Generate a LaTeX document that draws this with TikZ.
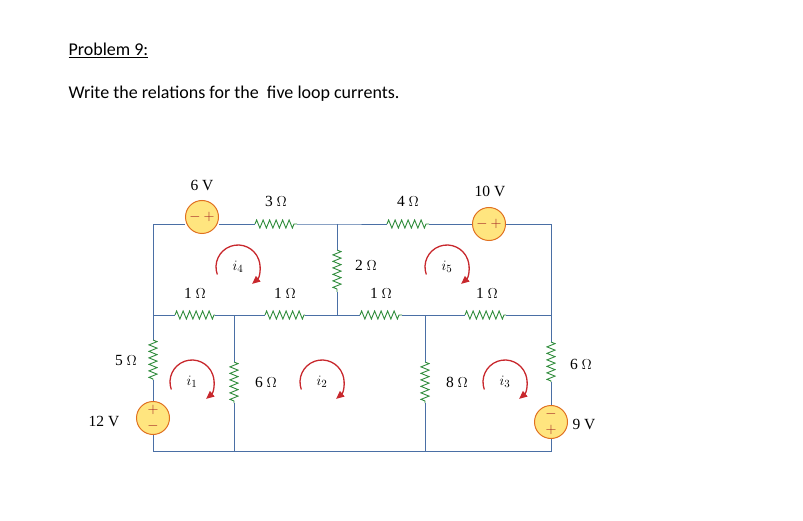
\documentclass[tikz,border=0pt]{standalone}
\usepackage{fontspec}
\setmainfont{Carlito}
\newfontfamily\tms{Liberation Serif}
\usetikzlibrary{decorations.pathmorphing,arrows.meta}
\definecolor{wire}{HTML}{4A6FA5}
\definecolor{res}{HTML}{2E8B3A}
\definecolor{srcfill}{HTML}{FFE57F}
\definecolor{srcline}{HTML}{E07020}
\definecolor{loop}{HTML}{C8282D}
\begin{document}
\begin{tikzpicture}[x=1pt,y=-1pt,
  w/.style={draw=wire,line width=0.9pt},
  R/.style={draw=res,line width=0.9pt,decorate,decoration={zigzag,segment length=6.5pt,amplitude=4pt}},
  src/.style={circle,draw=srcline,fill=srcfill,line width=1pt,minimum size=33pt,inner sep=0pt},
  sg/.style={font=\tms\fontsize{14}{14}\selectfont,text=loop!80!black,inner sep=0pt},
  lab/.style={font=\tms\fontsize{15.5}{18}\selectfont},
  cur/.style={draw=loop,line width=1.3pt,-{Triangle[length=8pt,width=7pt]}}]
\useasboundingbox (0,0) rectangle (803,521);
\node[anchor=base west,font=\fontsize{18}{21}\selectfont] (t1) at (65,56) {\underline{Problem 9:}};
\node[anchor=base west,font=\fontsize{18}{21}\selectfont] (t2) at (65,99) {Write the relations for the\ \ five loop currents.};
% grid coordinates
\coordinate (tl) at (153,224); \coordinate (tr) at (551,224);
\coordinate (ml) at (153,315); \coordinate (mr) at (551,315);
\coordinate (bl) at (153,451); \coordinate (br) at (551,451);
\coordinate (ta) at (337,224); \coordinate (ma) at (337,315);
\coordinate (mb) at (234,315); \coordinate (bb) at (234,451);
\coordinate (mc) at (425,315); \coordinate (bc) at (425,451);
% sources
\node[src] (s6) at (202,217) {};
\node[sg] at ([xshift=-7pt]s6) {$-$}; \node[sg] at ([xshift=7pt]s6) {$+$};
\node[src] (s10) at (489,224) {};
\node[sg] at ([xshift=-7pt]s10) {$-$}; \node[sg] at ([xshift=7pt]s10) {$+$};
\node[src] (s12) at (153,418) {};
\node[sg] at ([yshift=8pt]s12) {$+$}; \node[sg] at ([yshift=-8pt]s12) {$-$};
\node[src] (s9) at (551,422) {};
\node[sg] at ([yshift=8pt]s9) {$-$}; \node[sg] at ([yshift=-8pt]s9) {$+$};
% top row
\draw[w] (ml) -- (tl) -- (s6.west|-tl);
\draw[w] (s6.east|-tl) -- (255,224); \draw[R] (255,224) -- (297,224); \draw[w] (297,224) -- (ta) -- (387,224);
\draw[R] (387,224) -- (429,224); \draw[w] (429,224) -- (s10.west);
\draw[w] (s10.east) -- (tr) -- (mr);
% 2 ohm
\draw[w] (ta) -- (337,250); \draw[R] (337,250) -- (337,292); \draw[w] (337,292) -- (ma);
% middle row
\draw[w] (ml) -- (175,315); \draw[R] (175,315) -- (215,315); \draw[w] (215,315) -- (265,315);
\draw[R] (265,315) -- (305,315); \draw[w] (305,315) -- (360,315);
\draw[R] (360,315) -- (402,315); \draw[w] (402,315) -- (465,315);
\draw[R] (465,315) -- (506,315); \draw[w] (506,315) -- (mr);
% left branch
\draw[w] (ml) -- (153,340); \draw[R] (153,340) -- (153,380); \draw[w] (153,380) -- (s12.north);
\draw[w] (s12.south) -- (bl) -- (br) -- (s9.south);
% 6 ohm
\draw[w] (mb) -- (234,362); \draw[R] (234,362) -- (234,403); \draw[w] (234,403) -- (bb);
% 8 ohm
\draw[w] (mc) -- (425,362); \draw[R] (425,362) -- (425,403); \draw[w] (425,403) -- (bc);
% right 6 ohm
\draw[w] (mr) -- (551,342); \draw[R] (551,342) -- (551,382); \draw[w] (551,382) -- (s9.north);
% labels
\node[lab] (l6v) at (202,185) {6 V};
\node[lab] (l3) at (276,201) {3 $\Omega$};
\node[lab] (l4) at (408,201) {4 $\Omega$};
\node[lab] (l10) at (490,191) {10 V};
\node[lab] (l2) at (366,265) {2 $\Omega$};
\node[lab] (la) at (195,293) {1 $\Omega$};
\node[lab] (lb) at (285,293) {1 $\Omega$};
\node[lab] (lc) at (381,293) {1 $\Omega$};
\node[lab] (ld) at (487,293) {1 $\Omega$};
\node[lab] (l5) at (126,361) {5 $\Omega$};
\node[lab] (l6a) at (266,382) {6 $\Omega$};
\node[lab] (l8) at (457,382) {8 $\Omega$};
\node[lab] (l6b) at (581,364) {6 $\Omega$};
\node[lab] (l12) at (104,421) {12 V};
\node[lab] (l9) at (584,424) {9 V};
% loop currents
\foreach \n/\x/\y/\k in {c4/238/267/4, c5/447/267/5, c1/192/382/1, c2/322/382/2, c3/505/382/3}{
  \coordinate (\n) at (\x,\y);
  \draw[cur] ([shift={(160:22)}]\n) arc (160:410:22);
  \node[lab] at (\n) {$i_\k$};
}
\end{tikzpicture}
\end{document}
